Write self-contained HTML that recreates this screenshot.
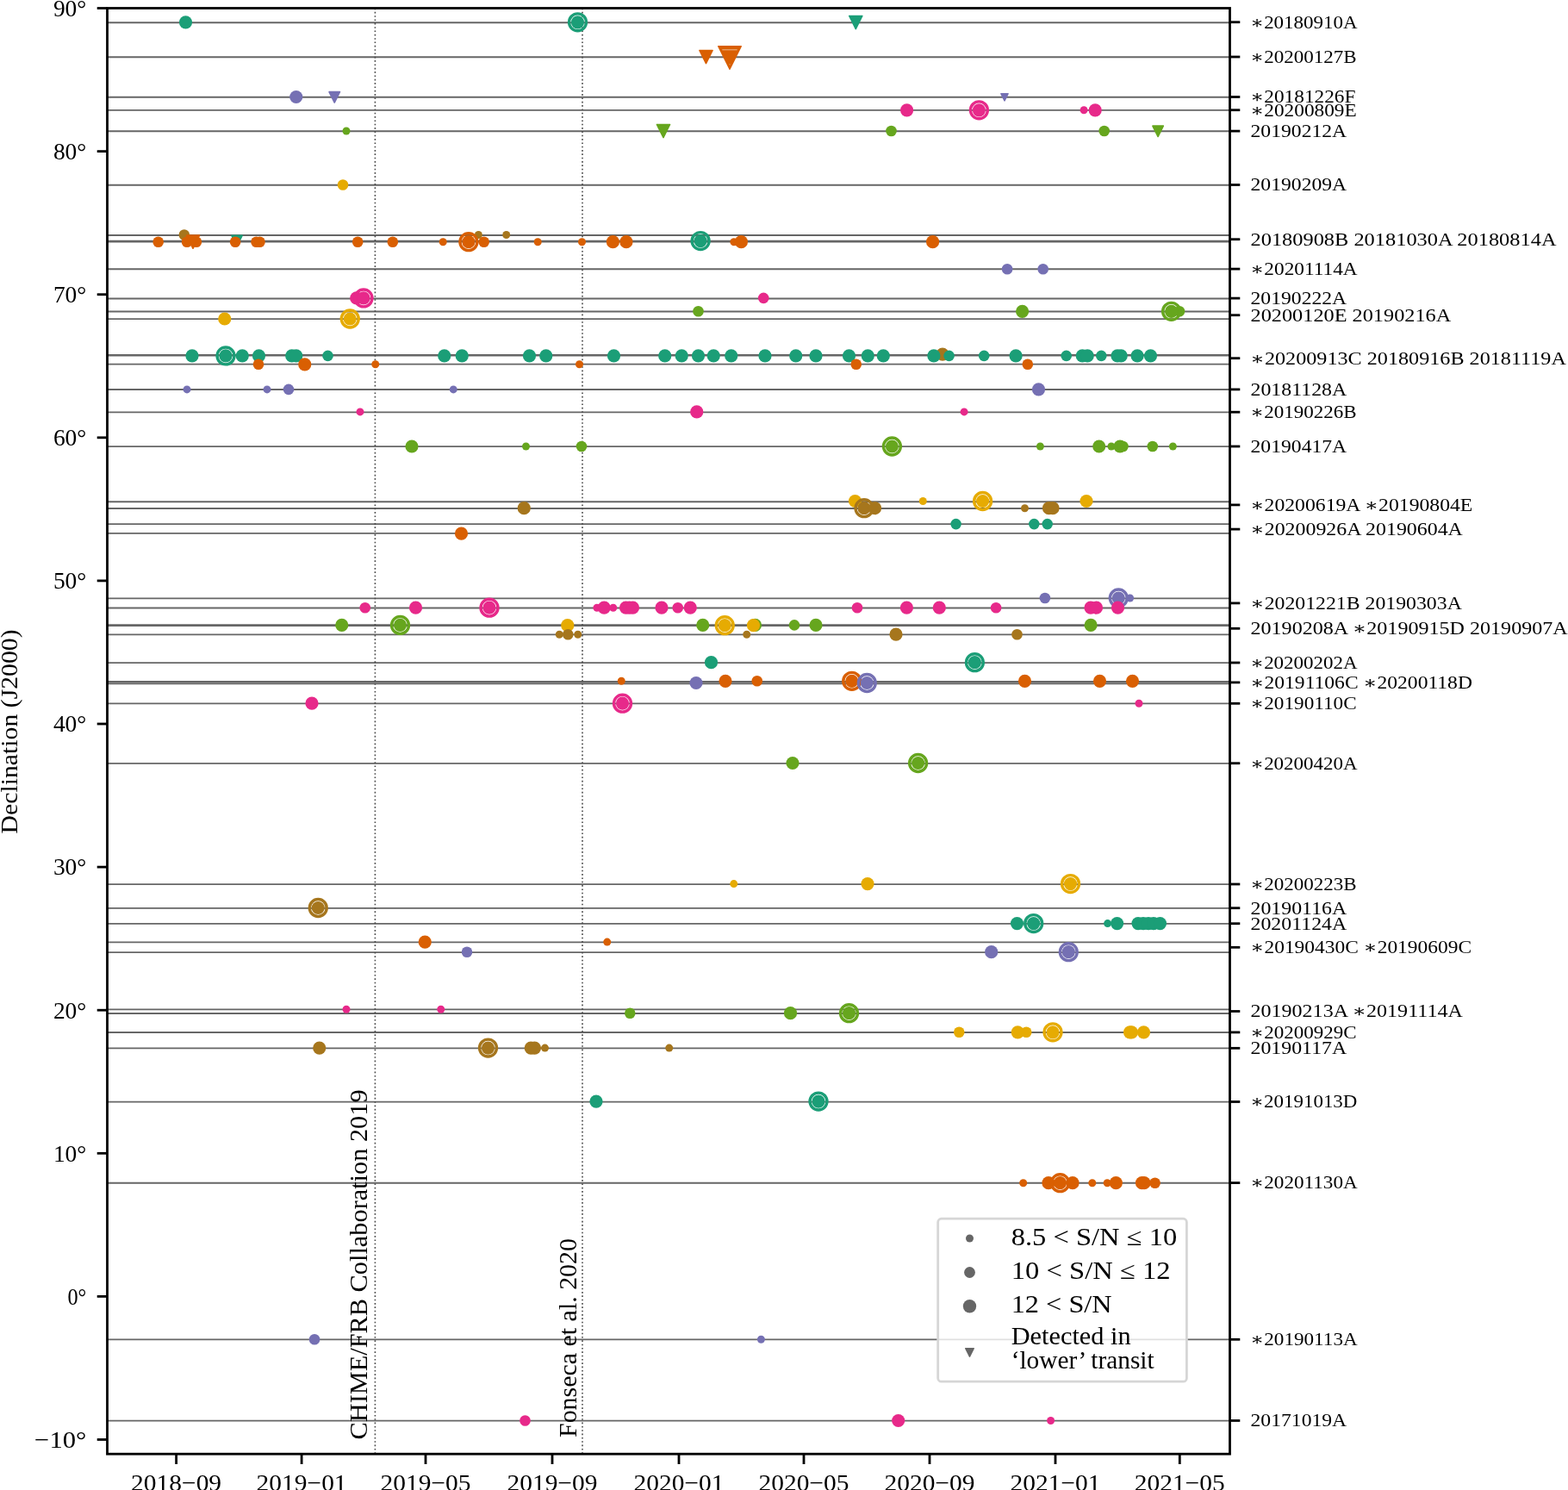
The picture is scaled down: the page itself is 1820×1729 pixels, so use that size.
<!DOCTYPE html><html><head><meta charset="utf-8"><style>html,body{margin:0;padding:0;background:#fff;}svg{display:block;}text{font-family:"Liberation Serif","DejaVu Serif",serif;fill:#000;}</style></head><body>
<svg width="1820" height="1729" viewBox="0 0 1820 1729">
<rect x="0" y="0" width="1820" height="1729" fill="#fff"/>
<g stroke="#666" stroke-width="1.85">
<line x1="124.5" y1="26.2" x2="1427.5" y2="26.2"/>
<line x1="124.5" y1="66.2" x2="1427.5" y2="66.2"/>
<line x1="124.5" y1="112.7" x2="1427.5" y2="112.7"/>
<line x1="124.5" y1="127.9" x2="1427.5" y2="127.9"/>
<line x1="124.5" y1="152.2" x2="1427.5" y2="152.2"/>
<line x1="124.5" y1="214.7" x2="1427.5" y2="214.7"/>
<line x1="124.5" y1="273.0" x2="1427.5" y2="273.0"/>
<line x1="124.5" y1="279.6" x2="1427.5" y2="279.6"/>
<line x1="124.5" y1="280.6" x2="1427.5" y2="280.6"/>
<line x1="124.5" y1="312.2" x2="1427.5" y2="312.2"/>
<line x1="124.5" y1="346.5" x2="1427.5" y2="346.5"/>
<line x1="124.5" y1="361.5" x2="1427.5" y2="361.5"/>
<line x1="124.5" y1="370.1" x2="1427.5" y2="370.1"/>
<line x1="124.5" y1="411.8" x2="1427.5" y2="411.8"/>
<line x1="124.5" y1="412.6" x2="1427.5" y2="412.6"/>
<line x1="124.5" y1="422.6" x2="1427.5" y2="422.6"/>
<line x1="124.5" y1="452.0" x2="1427.5" y2="452.0"/>
<line x1="124.5" y1="478.3" x2="1427.5" y2="478.3"/>
<line x1="124.5" y1="518.1" x2="1427.5" y2="518.1"/>
<line x1="124.5" y1="582.2" x2="1427.5" y2="582.2"/>
<line x1="124.5" y1="590.0" x2="1427.5" y2="590.0"/>
<line x1="124.5" y1="608.1" x2="1427.5" y2="608.1"/>
<line x1="124.5" y1="618.9" x2="1427.5" y2="618.9"/>
<line x1="124.5" y1="694.4" x2="1427.5" y2="694.4"/>
<line x1="124.5" y1="705.5" x2="1427.5" y2="705.5"/>
<line x1="124.5" y1="725.2" x2="1427.5" y2="725.2"/>
<line x1="124.5" y1="726.0" x2="1427.5" y2="726.0"/>
<line x1="124.5" y1="736.3" x2="1427.5" y2="736.3"/>
<line x1="124.5" y1="769.1" x2="1427.5" y2="769.1"/>
<line x1="124.5" y1="791.0" x2="1427.5" y2="791.0"/>
<line x1="124.5" y1="793.2" x2="1427.5" y2="793.2"/>
<line x1="124.5" y1="816.4" x2="1427.5" y2="816.4"/>
<line x1="124.5" y1="885.8" x2="1427.5" y2="885.8"/>
<line x1="124.5" y1="1026.1" x2="1427.5" y2="1026.1"/>
<line x1="124.5" y1="1053.8" x2="1427.5" y2="1053.8"/>
<line x1="124.5" y1="1071.8" x2="1427.5" y2="1071.8"/>
<line x1="124.5" y1="1093.4" x2="1427.5" y2="1093.4"/>
<line x1="124.5" y1="1105.1" x2="1427.5" y2="1105.1"/>
<line x1="124.5" y1="1171.3" x2="1427.5" y2="1171.3"/>
<line x1="124.5" y1="1176.0" x2="1427.5" y2="1176.0"/>
<line x1="124.5" y1="1198.0" x2="1427.5" y2="1198.0"/>
<line x1="124.5" y1="1216.4" x2="1427.5" y2="1216.4"/>
<line x1="124.5" y1="1278.6" x2="1427.5" y2="1278.6"/>
<line x1="124.5" y1="1372.7" x2="1427.5" y2="1372.7"/>
<line x1="124.5" y1="1554.4" x2="1427.5" y2="1554.4"/>
<line x1="124.5" y1="1648.6" x2="1427.5" y2="1648.6"/>
</g>
<g stroke="#4a4a4a" stroke-width="1.63" stroke-dasharray="1.63 2.7">
<line x1="435.4" y1="9.5" x2="435.4" y2="1687.2"/>
<line x1="676.0" y1="9.5" x2="676.0" y2="1687.2"/>
</g>
<circle cx="215.5" cy="25.8" r="7.6" fill="#1b9e77"/>
<circle cx="670.5" cy="25.8" r="9.95" fill="none" stroke="#1b9e77" stroke-width="3.4"/>
<circle cx="670.5" cy="25.8" r="7.6" fill="#1b9e77"/>
<path d="M985.70 18.50L1000.90 18.50L993.30 33.70Z" fill="#1b9e77" stroke="#1b9e77" stroke-width="1.5" stroke-linejoin="round"/>
<path d="M811.90 58.50L827.10 58.50L819.50 73.70Z" fill="#d95f02" stroke="#d95f02" stroke-width="1.5" stroke-linejoin="round"/>
<path d="M833.75 53.75L860.25 53.75L847.00 80.25Z" fill="#d95f02" stroke="#d95f02" stroke-width="1.5" stroke-linejoin="round"/>
<line x1="838.30" y1="57.80" x2="855.70" y2="57.80" stroke="#fff" stroke-width="0.7" opacity="0.8"/>
<circle cx="847.00" cy="74.80" r="0.5" fill="#fff" opacity="0.7"/>
<circle cx="343.75" cy="112.5" r="7.6" fill="#7570b3"/>
<path d="M382.00 106.55L394.50 106.55L388.25 119.05Z" fill="#7570b3" stroke="#7570b3" stroke-width="1.5" stroke-linejoin="round"/>
<path d="M1161.90 108.70L1170.10 108.70L1166.00 116.90Z" fill="#7570b3" stroke="#7570b3" stroke-width="1.5" stroke-linejoin="round"/>
<circle cx="1052.6" cy="127.8" r="7.6" fill="#e7298a"/>
<circle cx="1136.4" cy="127.8" r="9.95" fill="none" stroke="#e7298a" stroke-width="3.4"/>
<circle cx="1136.4" cy="127.8" r="7.6" fill="#e7298a"/>
<circle cx="1258.1" cy="127.8" r="4.5" fill="#e7298a"/>
<circle cx="1271.2" cy="127.8" r="7.6" fill="#e7298a"/>
<circle cx="402" cy="152.0" r="4.5" fill="#66a61e"/>
<path d="M762.40 144.50L777.60 144.50L770.00 159.70Z" fill="#66a61e" stroke="#66a61e" stroke-width="1.5" stroke-linejoin="round"/>
<circle cx="1034.5" cy="152.0" r="6.3" fill="#66a61e"/>
<circle cx="1281.7" cy="152.0" r="6.3" fill="#66a61e"/>
<path d="M1337.85 146.05L1350.35 146.05L1344.10 158.55Z" fill="#66a61e" stroke="#66a61e" stroke-width="1.5" stroke-linejoin="round"/>
<circle cx="398" cy="214.5" r="6.3" fill="#e6ab02"/>
<circle cx="213.8" cy="272.5" r="6.3" fill="#a6761d"/>
<circle cx="555.4" cy="272.5" r="4.5" fill="#a6761d"/>
<circle cx="587.7" cy="272.5" r="4.5" fill="#a6761d"/>
<path d="M268.75 273.25L281.25 273.25L275.00 285.75Z" fill="#1b9e77" stroke="#1b9e77" stroke-width="1.5" stroke-linejoin="round"/>
<circle cx="813.1" cy="279.6" r="9.95" fill="none" stroke="#1b9e77" stroke-width="3.4"/>
<circle cx="813.1" cy="279.6" r="7.6" fill="#1b9e77"/>
<circle cx="183.7" cy="280.7" r="6.3" fill="#d95f02"/>
<circle cx="217.0" cy="280.7" r="6.3" fill="#d95f02"/>
<circle cx="227.9" cy="280.7" r="6.3" fill="#d95f02"/>
<path d="M216.40 273.10L231.60 273.10L224.00 288.30Z" fill="#d95f02" stroke="#d95f02" stroke-width="1.5" stroke-linejoin="round"/>
<circle cx="273.1" cy="280.7" r="6.3" fill="#d95f02"/>
<circle cx="297.5" cy="280.7" r="6.3" fill="#d95f02"/>
<circle cx="301.5" cy="280.7" r="6.3" fill="#d95f02"/>
<circle cx="415.2" cy="280.7" r="6.3" fill="#d95f02"/>
<circle cx="455.8" cy="280.7" r="6.3" fill="#d95f02"/>
<circle cx="514.2" cy="280.7" r="4.5" fill="#d95f02"/>
<circle cx="543.9" cy="280.7" r="9.95" fill="none" stroke="#d95f02" stroke-width="3.4"/>
<circle cx="543.9" cy="280.7" r="7.6" fill="#d95f02"/>
<circle cx="561.7" cy="280.7" r="6.3" fill="#d95f02"/>
<circle cx="624.2" cy="280.7" r="4.5" fill="#d95f02"/>
<circle cx="675.5" cy="280.7" r="4.5" fill="#d95f02"/>
<circle cx="711.4" cy="280.7" r="7.6" fill="#d95f02"/>
<circle cx="726.9" cy="280.7" r="7.6" fill="#d95f02"/>
<circle cx="851.9" cy="280.7" r="4.5" fill="#d95f02"/>
<circle cx="860.4" cy="280.7" r="7.6" fill="#d95f02"/>
<circle cx="1082.6" cy="280.7" r="7.6" fill="#d95f02"/>
<circle cx="1169.1" cy="312.2" r="6.3" fill="#7570b3"/>
<circle cx="1210.7" cy="312.2" r="6.3" fill="#7570b3"/>
<circle cx="413.75" cy="345.9" r="7.6" fill="#e7298a"/>
<circle cx="422.0" cy="345.9" r="9.95" fill="none" stroke="#e7298a" stroke-width="3.4"/>
<circle cx="422.0" cy="345.9" r="7.6" fill="#e7298a"/>
<circle cx="886.25" cy="345.9" r="6.3" fill="#e7298a"/>
<circle cx="810.5" cy="361.3" r="6.3" fill="#66a61e"/>
<circle cx="1186.6" cy="361.3" r="7.6" fill="#66a61e"/>
<circle cx="1369.0" cy="361.3" r="6.3" fill="#66a61e"/>
<circle cx="1359.6" cy="361.3" r="9.95" fill="none" stroke="#66a61e" stroke-width="3.4"/>
<circle cx="1359.6" cy="361.3" r="7.6" fill="#66a61e"/>
<circle cx="260.75" cy="370.0" r="7.6" fill="#e6ab02"/>
<circle cx="406.25" cy="370.0" r="9.95" fill="none" stroke="#e6ab02" stroke-width="3.4"/>
<circle cx="406.25" cy="370.0" r="7.6" fill="#e6ab02"/>
<circle cx="1094.0" cy="411.2" r="7.6" fill="#a6761d"/>
<circle cx="223" cy="412.9" r="7.6" fill="#1b9e77"/>
<circle cx="262" cy="412.9" r="9.95" fill="none" stroke="#1b9e77" stroke-width="3.4"/>
<circle cx="262" cy="412.9" r="7.6" fill="#1b9e77"/>
<circle cx="281.25" cy="412.9" r="7.6" fill="#1b9e77"/>
<circle cx="300.5" cy="412.9" r="7.6" fill="#1b9e77"/>
<circle cx="338.75" cy="412.9" r="7.6" fill="#1b9e77"/>
<circle cx="343.75" cy="412.9" r="7.6" fill="#1b9e77"/>
<circle cx="380.5" cy="412.9" r="6.3" fill="#1b9e77"/>
<circle cx="515.75" cy="412.9" r="7.6" fill="#1b9e77"/>
<circle cx="536.25" cy="412.9" r="7.6" fill="#1b9e77"/>
<circle cx="614.5" cy="412.9" r="7.6" fill="#1b9e77"/>
<circle cx="633.75" cy="412.9" r="7.6" fill="#1b9e77"/>
<circle cx="712.5" cy="412.9" r="7.6" fill="#1b9e77"/>
<circle cx="771.75" cy="412.9" r="7.6" fill="#1b9e77"/>
<circle cx="791.25" cy="412.9" r="7.6" fill="#1b9e77"/>
<circle cx="810.5" cy="412.9" r="7.6" fill="#1b9e77"/>
<circle cx="828.25" cy="412.9" r="7.6" fill="#1b9e77"/>
<circle cx="848.75" cy="412.9" r="7.6" fill="#1b9e77"/>
<circle cx="888" cy="412.9" r="7.6" fill="#1b9e77"/>
<circle cx="923.75" cy="412.9" r="7.6" fill="#1b9e77"/>
<circle cx="947" cy="412.9" r="7.6" fill="#1b9e77"/>
<circle cx="985.5" cy="412.9" r="7.6" fill="#1b9e77"/>
<circle cx="1007.3" cy="412.9" r="7.6" fill="#1b9e77"/>
<circle cx="1025.3" cy="412.9" r="7.6" fill="#1b9e77"/>
<circle cx="1083.9" cy="412.9" r="7.6" fill="#1b9e77"/>
<circle cx="1101.6" cy="412.9" r="6.3" fill="#1b9e77"/>
<circle cx="1142.2" cy="412.9" r="6.3" fill="#1b9e77"/>
<circle cx="1179.1" cy="412.9" r="7.6" fill="#1b9e77"/>
<circle cx="1237.7" cy="412.9" r="6.3" fill="#1b9e77"/>
<circle cx="1256.3" cy="412.9" r="7.6" fill="#1b9e77"/>
<circle cx="1262.2" cy="412.9" r="7.6" fill="#1b9e77"/>
<circle cx="1278.3" cy="412.9" r="6.3" fill="#1b9e77"/>
<circle cx="1297" cy="412.9" r="7.6" fill="#1b9e77"/>
<circle cx="1301.2" cy="412.9" r="7.6" fill="#1b9e77"/>
<circle cx="1320.1" cy="412.9" r="7.6" fill="#1b9e77"/>
<circle cx="1335.5" cy="412.9" r="7.6" fill="#1b9e77"/>
<circle cx="300" cy="422.8" r="6.3" fill="#d95f02"/>
<circle cx="353.75" cy="422.8" r="7.6" fill="#d95f02"/>
<circle cx="435.75" cy="422.8" r="4.5" fill="#d95f02"/>
<circle cx="672.5" cy="422.8" r="4.5" fill="#d95f02"/>
<circle cx="993.75" cy="422.8" r="6.3" fill="#d95f02"/>
<circle cx="1192.8" cy="422.8" r="6.3" fill="#d95f02"/>
<circle cx="217" cy="451.9" r="4.5" fill="#7570b3"/>
<circle cx="310" cy="451.9" r="4.5" fill="#7570b3"/>
<circle cx="335" cy="451.9" r="6.3" fill="#7570b3"/>
<circle cx="526.25" cy="451.9" r="4.5" fill="#7570b3"/>
<circle cx="1205.5" cy="451.9" r="7.6" fill="#7570b3"/>
<circle cx="418" cy="477.9" r="4.5" fill="#e7298a"/>
<circle cx="808.75" cy="477.9" r="7.6" fill="#e7298a"/>
<circle cx="1119.1" cy="477.9" r="4.5" fill="#e7298a"/>
<circle cx="478" cy="518.0" r="7.6" fill="#66a61e"/>
<circle cx="610.5" cy="518.0" r="4.5" fill="#66a61e"/>
<circle cx="675" cy="518.0" r="6.3" fill="#66a61e"/>
<circle cx="1035.4" cy="518.0" r="9.95" fill="none" stroke="#66a61e" stroke-width="3.4"/>
<circle cx="1035.4" cy="518.0" r="7.6" fill="#66a61e"/>
<circle cx="1207.4" cy="518.0" r="4.5" fill="#66a61e"/>
<circle cx="1275.7" cy="518.0" r="7.6" fill="#66a61e"/>
<circle cx="1289.9" cy="518.0" r="4.5" fill="#66a61e"/>
<circle cx="1300" cy="518.0" r="7.6" fill="#66a61e"/>
<circle cx="1303.5" cy="518.0" r="6.3" fill="#66a61e"/>
<circle cx="1337.8" cy="518.0" r="6.3" fill="#66a61e"/>
<circle cx="1361.4" cy="518.0" r="4.5" fill="#66a61e"/>
<circle cx="992.5" cy="581.5" r="7.6" fill="#e6ab02"/>
<circle cx="1071.3" cy="581.5" r="4.5" fill="#e6ab02"/>
<circle cx="1140.6" cy="581.5" r="9.95" fill="none" stroke="#e6ab02" stroke-width="3.4"/>
<circle cx="1140.6" cy="581.5" r="7.6" fill="#e6ab02"/>
<circle cx="1261" cy="581.5" r="7.6" fill="#e6ab02"/>
<circle cx="608.25" cy="589.7" r="7.6" fill="#a6761d"/>
<circle cx="1003" cy="589.7" r="9.95" fill="none" stroke="#a6761d" stroke-width="3.4"/>
<circle cx="1003" cy="589.7" r="7.6" fill="#a6761d"/>
<circle cx="1015.5" cy="589.7" r="7.6" fill="#a6761d"/>
<circle cx="1189.5" cy="589.7" r="4.5" fill="#a6761d"/>
<circle cx="1217.5" cy="589.7" r="7.6" fill="#a6761d"/>
<circle cx="1222" cy="589.7" r="7.6" fill="#a6761d"/>
<circle cx="1109.6" cy="608.1" r="6.3" fill="#1b9e77"/>
<circle cx="1200.3" cy="608.1" r="6.3" fill="#1b9e77"/>
<circle cx="1215.7" cy="608.1" r="6.3" fill="#1b9e77"/>
<circle cx="535.5" cy="619.2" r="7.6" fill="#d95f02"/>
<circle cx="1212.9" cy="694.0" r="6.3" fill="#7570b3"/>
<circle cx="1298.3" cy="694.0" r="9.95" fill="none" stroke="#7570b3" stroke-width="3.4"/>
<circle cx="1298.3" cy="694.0" r="7.6" fill="#7570b3"/>
<circle cx="1311.6" cy="694.0" r="4.5" fill="#7570b3"/>
<circle cx="423.75" cy="705.2" r="6.3" fill="#e7298a"/>
<circle cx="482.5" cy="705.2" r="7.6" fill="#e7298a"/>
<circle cx="568" cy="705.2" r="9.95" fill="none" stroke="#e7298a" stroke-width="3.4"/>
<circle cx="568" cy="705.2" r="7.6" fill="#e7298a"/>
<circle cx="692.9" cy="705.2" r="4.5" fill="#e7298a"/>
<circle cx="701.25" cy="705.2" r="7.6" fill="#e7298a"/>
<circle cx="711.75" cy="705.2" r="4.5" fill="#e7298a"/>
<circle cx="726.5" cy="705.2" r="7.6" fill="#e7298a"/>
<circle cx="730.5" cy="705.2" r="7.6" fill="#e7298a"/>
<circle cx="734.5" cy="705.2" r="7.6" fill="#e7298a"/>
<circle cx="768" cy="705.2" r="7.6" fill="#e7298a"/>
<circle cx="786.75" cy="705.2" r="6.3" fill="#e7298a"/>
<circle cx="801.25" cy="705.2" r="7.6" fill="#e7298a"/>
<circle cx="995" cy="705.2" r="6.3" fill="#e7298a"/>
<circle cx="1052.4" cy="705.2" r="7.6" fill="#e7298a"/>
<circle cx="1090.3" cy="705.2" r="7.6" fill="#e7298a"/>
<circle cx="1156.1" cy="705.2" r="6.3" fill="#e7298a"/>
<circle cx="1266" cy="705.2" r="7.6" fill="#e7298a"/>
<circle cx="1272.5" cy="705.2" r="7.6" fill="#e7298a"/>
<circle cx="1297.5" cy="705.2" r="7.6" fill="#e7298a"/>
<circle cx="396.75" cy="725.4" r="7.6" fill="#66a61e"/>
<circle cx="464.5" cy="725.4" r="9.95" fill="none" stroke="#66a61e" stroke-width="3.4"/>
<circle cx="464.5" cy="725.4" r="7.6" fill="#66a61e"/>
<circle cx="815.75" cy="725.4" r="7.6" fill="#66a61e"/>
<circle cx="876.5" cy="725.4" r="7.6" fill="#66a61e"/>
<circle cx="922" cy="725.4" r="6.3" fill="#66a61e"/>
<circle cx="947" cy="725.4" r="7.6" fill="#66a61e"/>
<circle cx="1266.1" cy="725.4" r="7.6" fill="#66a61e"/>
<circle cx="658.75" cy="725.7" r="7.6" fill="#e6ab02"/>
<circle cx="841.25" cy="725.7" r="9.95" fill="none" stroke="#e6ab02" stroke-width="3.4"/>
<circle cx="841.25" cy="725.7" r="7.6" fill="#e6ab02"/>
<circle cx="874.5" cy="725.7" r="7.6" fill="#e6ab02"/>
<circle cx="649.25" cy="736.2" r="4.5" fill="#a6761d"/>
<circle cx="659.25" cy="736.2" r="6.3" fill="#a6761d"/>
<circle cx="670.75" cy="736.2" r="4.5" fill="#a6761d"/>
<circle cx="866.75" cy="736.2" r="4.5" fill="#a6761d"/>
<circle cx="1040" cy="736.2" r="7.6" fill="#a6761d"/>
<circle cx="1180.5" cy="736.2" r="6.3" fill="#a6761d"/>
<circle cx="825.5" cy="768.7" r="7.6" fill="#1b9e77"/>
<circle cx="1131.4" cy="768.7" r="9.95" fill="none" stroke="#1b9e77" stroke-width="3.4"/>
<circle cx="1131.4" cy="768.7" r="7.6" fill="#1b9e77"/>
<circle cx="721.25" cy="790.3" r="4.5" fill="#d95f02"/>
<circle cx="842" cy="790.3" r="7.6" fill="#d95f02"/>
<circle cx="878.75" cy="790.3" r="6.3" fill="#d95f02"/>
<circle cx="988.75" cy="790.3" r="9.95" fill="none" stroke="#d95f02" stroke-width="3.4"/>
<circle cx="988.75" cy="790.3" r="7.6" fill="#d95f02"/>
<circle cx="1189.5" cy="790.3" r="7.6" fill="#d95f02"/>
<circle cx="1276.5" cy="790.3" r="7.6" fill="#d95f02"/>
<circle cx="1314.5" cy="790.3" r="7.6" fill="#d95f02"/>
<circle cx="808" cy="792.5" r="7.6" fill="#7570b3"/>
<circle cx="1006.3" cy="792.5" r="9.95" fill="none" stroke="#7570b3" stroke-width="3.4"/>
<circle cx="1006.3" cy="792.5" r="7.6" fill="#7570b3"/>
<circle cx="362" cy="816.2" r="7.6" fill="#e7298a"/>
<circle cx="722.5" cy="816.2" r="9.95" fill="none" stroke="#e7298a" stroke-width="3.4"/>
<circle cx="722.5" cy="816.2" r="7.6" fill="#e7298a"/>
<circle cx="1322" cy="816.2" r="4.5" fill="#e7298a"/>
<circle cx="920" cy="885.5" r="7.6" fill="#66a61e"/>
<circle cx="1065.6" cy="885.5" r="9.95" fill="none" stroke="#66a61e" stroke-width="3.4"/>
<circle cx="1065.6" cy="885.5" r="7.6" fill="#66a61e"/>
<circle cx="851.75" cy="1025.6" r="4.5" fill="#e6ab02"/>
<circle cx="1007" cy="1025.6" r="7.6" fill="#e6ab02"/>
<circle cx="1242.5" cy="1025.6" r="9.95" fill="none" stroke="#e6ab02" stroke-width="3.4"/>
<circle cx="1242.5" cy="1025.6" r="7.6" fill="#e6ab02"/>
<circle cx="369.25" cy="1053.5" r="9.95" fill="none" stroke="#a6761d" stroke-width="3.4"/>
<circle cx="369.25" cy="1053.5" r="7.6" fill="#a6761d"/>
<circle cx="1180.5" cy="1071.6" r="7.6" fill="#1b9e77"/>
<circle cx="1199.7" cy="1071.6" r="9.95" fill="none" stroke="#1b9e77" stroke-width="3.4"/>
<circle cx="1199.7" cy="1071.6" r="7.6" fill="#1b9e77"/>
<circle cx="1285.6" cy="1071.6" r="4.5" fill="#1b9e77"/>
<circle cx="1296.6" cy="1071.6" r="7.6" fill="#1b9e77"/>
<circle cx="1321" cy="1071.6" r="7.6" fill="#1b9e77"/>
<circle cx="1327" cy="1071.6" r="7.6" fill="#1b9e77"/>
<circle cx="1333" cy="1071.6" r="7.6" fill="#1b9e77"/>
<circle cx="1339" cy="1071.6" r="7.6" fill="#1b9e77"/>
<circle cx="1346.5" cy="1071.6" r="7.6" fill="#1b9e77"/>
<circle cx="493.25" cy="1093.1" r="7.6" fill="#d95f02"/>
<circle cx="704.75" cy="1093.1" r="4.5" fill="#d95f02"/>
<circle cx="542" cy="1104.7" r="6.3" fill="#7570b3"/>
<circle cx="1150.7" cy="1104.7" r="7.6" fill="#7570b3"/>
<circle cx="1240.3" cy="1104.7" r="9.95" fill="none" stroke="#7570b3" stroke-width="3.4"/>
<circle cx="1240.3" cy="1104.7" r="7.6" fill="#7570b3"/>
<circle cx="402" cy="1171.3" r="4.5" fill="#e7298a"/>
<circle cx="511.75" cy="1171.3" r="4.5" fill="#e7298a"/>
<circle cx="731.25" cy="1175.7" r="6.3" fill="#66a61e"/>
<circle cx="917.5" cy="1175.7" r="7.6" fill="#66a61e"/>
<circle cx="985.5" cy="1175.7" r="9.95" fill="none" stroke="#66a61e" stroke-width="3.4"/>
<circle cx="985.5" cy="1175.7" r="7.6" fill="#66a61e"/>
<circle cx="1113.25" cy="1197.8" r="6.3" fill="#e6ab02"/>
<circle cx="1181.25" cy="1197.8" r="7.6" fill="#e6ab02"/>
<circle cx="1191.25" cy="1197.8" r="6.3" fill="#e6ab02"/>
<circle cx="1222" cy="1197.8" r="9.95" fill="none" stroke="#e6ab02" stroke-width="3.4"/>
<circle cx="1222" cy="1197.8" r="7.6" fill="#e6ab02"/>
<circle cx="1311.5" cy="1197.8" r="7.6" fill="#e6ab02"/>
<circle cx="1313.5" cy="1197.8" r="7.6" fill="#e6ab02"/>
<circle cx="1327.5" cy="1197.8" r="7.6" fill="#e6ab02"/>
<circle cx="370.75" cy="1216.1" r="7.6" fill="#a6761d"/>
<circle cx="566.5" cy="1216.1" r="9.95" fill="none" stroke="#a6761d" stroke-width="3.4"/>
<circle cx="566.5" cy="1216.1" r="7.6" fill="#a6761d"/>
<circle cx="616.25" cy="1216.1" r="7.6" fill="#a6761d"/>
<circle cx="620.5" cy="1216.1" r="7.6" fill="#a6761d"/>
<circle cx="632.5" cy="1216.1" r="4.5" fill="#a6761d"/>
<circle cx="776.75" cy="1216.1" r="4.5" fill="#a6761d"/>
<circle cx="692" cy="1278.1" r="7.6" fill="#1b9e77"/>
<circle cx="950" cy="1278.1" r="9.95" fill="none" stroke="#1b9e77" stroke-width="3.4"/>
<circle cx="950" cy="1278.1" r="7.6" fill="#1b9e77"/>
<circle cx="1187.7" cy="1372.7" r="4.5" fill="#d95f02"/>
<circle cx="1217" cy="1372.7" r="7.6" fill="#d95f02"/>
<circle cx="1230.5" cy="1372.7" r="9.95" fill="none" stroke="#d95f02" stroke-width="3.4"/>
<circle cx="1230.5" cy="1372.7" r="7.6" fill="#d95f02"/>
<circle cx="1245" cy="1372.7" r="7.6" fill="#d95f02"/>
<circle cx="1267.8" cy="1372.7" r="4.5" fill="#d95f02"/>
<circle cx="1285.2" cy="1372.7" r="4.5" fill="#d95f02"/>
<circle cx="1295.3" cy="1372.7" r="7.6" fill="#d95f02"/>
<circle cx="1325.5" cy="1372.7" r="7.6" fill="#d95f02"/>
<circle cx="1328" cy="1372.7" r="7.6" fill="#d95f02"/>
<circle cx="1340.6" cy="1372.7" r="6.3" fill="#d95f02"/>
<circle cx="365.05" cy="1554.3" r="6.3" fill="#7570b3"/>
<circle cx="883.4" cy="1554.3" r="4.5" fill="#7570b3"/>
<circle cx="609.5" cy="1648.5" r="6.3" fill="#e7298a"/>
<circle cx="1042.7" cy="1648.5" r="7.6" fill="#e7298a"/>
<circle cx="1219.6" cy="1648.5" r="4.5" fill="#e7298a"/>
<text transform="translate(426.0,1670.4) rotate(-90)" font-size="28.5" textLength="406" lengthAdjust="spacingAndGlyphs">CHIME/FRB Collaboration 2019</text>
<text transform="translate(668.8,1668) rotate(-90)" font-size="28.5" textLength="231" lengthAdjust="spacingAndGlyphs">Fonseca et al. 2020</text>
<rect x="1088.7" y="1414.2" width="288.7" height="189" rx="4" ry="4" fill="#fff" fill-opacity="0.8" stroke="#d6d6d6" stroke-width="2.8"/>
<circle cx="1125.5" cy="1437" r="4.5" fill="#666666"/>
<circle cx="1125.5" cy="1476.5" r="6.4" fill="#666666"/>
<circle cx="1125.5" cy="1515.7" r="7.7" fill="#666666"/>
<path d="M1120.75 1564.65L1130.25 1564.65L1125.50 1574.15Z" fill="#666666" stroke="#666666" stroke-width="1.5" stroke-linejoin="round"/>
<g font-size="28.5">
<text x="1173.7" y="1444.5" textLength="192.5" lengthAdjust="spacingAndGlyphs">8.5 &lt; S/N ≤ 10</text>
<text x="1173.7" y="1483.7" textLength="185" lengthAdjust="spacingAndGlyphs">10 &lt; S/N ≤ 12</text>
<text x="1173.7" y="1522.5" textLength="117" lengthAdjust="spacingAndGlyphs">12 &lt; S/N</text>
<text x="1173.7" y="1560.3" textLength="139" lengthAdjust="spacingAndGlyphs">Detected in</text>
<text x="1173.7" y="1587.6" textLength="166" lengthAdjust="spacingAndGlyphs">‘lower’ transit</text>
</g>
<rect x="124.5" y="9.5" width="1303.0" height="1677.7" fill="none" stroke="#000" stroke-width="2.8"/>
<g stroke="#000" stroke-width="2.8">
<line x1="112.7" y1="9.50" x2="124.5" y2="9.50"/>
<line x1="112.7" y1="175.60" x2="124.5" y2="175.60"/>
<line x1="112.7" y1="341.70" x2="124.5" y2="341.70"/>
<line x1="112.7" y1="507.80" x2="124.5" y2="507.80"/>
<line x1="112.7" y1="673.90" x2="124.5" y2="673.90"/>
<line x1="112.7" y1="840.00" x2="124.5" y2="840.00"/>
<line x1="112.7" y1="1006.10" x2="124.5" y2="1006.10"/>
<line x1="112.7" y1="1172.20" x2="124.5" y2="1172.20"/>
<line x1="112.7" y1="1338.30" x2="124.5" y2="1338.30"/>
<line x1="112.7" y1="1504.40" x2="124.5" y2="1504.40"/>
<line x1="112.7" y1="1670.50" x2="124.5" y2="1670.50"/>
<line x1="1427.5" y1="25.7" x2="1439.3" y2="25.7"/>
<line x1="1427.5" y1="66.0" x2="1439.3" y2="66.0"/>
<line x1="1427.5" y1="112.5" x2="1439.3" y2="112.5"/>
<line x1="1427.5" y1="127.7" x2="1439.3" y2="127.7"/>
<line x1="1427.5" y1="152.1" x2="1439.3" y2="152.1"/>
<line x1="1427.5" y1="214.5" x2="1439.3" y2="214.5"/>
<line x1="1427.5" y1="277.7" x2="1439.3" y2="277.7"/>
<line x1="1427.5" y1="312.1" x2="1439.3" y2="312.1"/>
<line x1="1427.5" y1="346.1" x2="1439.3" y2="346.1"/>
<line x1="1427.5" y1="365.7" x2="1439.3" y2="365.7"/>
<line x1="1427.5" y1="415.7" x2="1439.3" y2="415.7"/>
<line x1="1427.5" y1="451.9" x2="1439.3" y2="451.9"/>
<line x1="1427.5" y1="478.2" x2="1439.3" y2="478.2"/>
<line x1="1427.5" y1="518.0" x2="1439.3" y2="518.0"/>
<line x1="1427.5" y1="585.9" x2="1439.3" y2="585.9"/>
<line x1="1427.5" y1="614.1" x2="1439.3" y2="614.1"/>
<line x1="1427.5" y1="699.9" x2="1439.3" y2="699.9"/>
<line x1="1427.5" y1="729.3" x2="1439.3" y2="729.3"/>
<line x1="1427.5" y1="769.0" x2="1439.3" y2="769.0"/>
<line x1="1427.5" y1="791.9" x2="1439.3" y2="791.9"/>
<line x1="1427.5" y1="816.3" x2="1439.3" y2="816.3"/>
<line x1="1427.5" y1="885.7" x2="1439.3" y2="885.7"/>
<line x1="1427.5" y1="1026.0" x2="1439.3" y2="1026.0"/>
<line x1="1427.5" y1="1053.7" x2="1439.3" y2="1053.7"/>
<line x1="1427.5" y1="1071.7" x2="1439.3" y2="1071.7"/>
<line x1="1427.5" y1="1099.3" x2="1439.3" y2="1099.3"/>
<line x1="1427.5" y1="1173.5" x2="1439.3" y2="1173.5"/>
<line x1="1427.5" y1="1197.9" x2="1439.3" y2="1197.9"/>
<line x1="1427.5" y1="1216.3" x2="1439.3" y2="1216.3"/>
<line x1="1427.5" y1="1278.5" x2="1439.3" y2="1278.5"/>
<line x1="1427.5" y1="1372.6" x2="1439.3" y2="1372.6"/>
<line x1="1427.5" y1="1554.3" x2="1439.3" y2="1554.3"/>
<line x1="1427.5" y1="1648.5" x2="1439.3" y2="1648.5"/>
<line x1="204.6" y1="1687.2" x2="204.6" y2="1699.0"/>
<line x1="350.1" y1="1687.2" x2="350.1" y2="1699.0"/>
<line x1="494.0" y1="1687.2" x2="494.0" y2="1699.0"/>
<line x1="641.0" y1="1687.2" x2="641.0" y2="1699.0"/>
<line x1="788.0" y1="1687.2" x2="788.0" y2="1699.0"/>
<line x1="933.0" y1="1687.2" x2="933.0" y2="1699.0"/>
<line x1="1079.0" y1="1687.2" x2="1079.0" y2="1699.0"/>
<line x1="1225.0" y1="1687.2" x2="1225.0" y2="1699.0"/>
<line x1="1369.3" y1="1687.2" x2="1369.3" y2="1699.0"/>
</g>
<g font-size="28">
<text x="100.3" y="18.80" text-anchor="end" textLength="38.4" lengthAdjust="spacingAndGlyphs">90°</text>
<text x="100.3" y="184.90" text-anchor="end" textLength="38.4" lengthAdjust="spacingAndGlyphs">80°</text>
<text x="100.3" y="351.00" text-anchor="end" textLength="38.4" lengthAdjust="spacingAndGlyphs">70°</text>
<text x="100.3" y="517.10" text-anchor="end" textLength="38.4" lengthAdjust="spacingAndGlyphs">60°</text>
<text x="100.3" y="683.20" text-anchor="end" textLength="38.4" lengthAdjust="spacingAndGlyphs">50°</text>
<text x="100.3" y="849.30" text-anchor="end" textLength="38.4" lengthAdjust="spacingAndGlyphs">40°</text>
<text x="100.3" y="1015.40" text-anchor="end" textLength="38.4" lengthAdjust="spacingAndGlyphs">30°</text>
<text x="100.3" y="1181.50" text-anchor="end" textLength="38.4" lengthAdjust="spacingAndGlyphs">20°</text>
<text x="100.3" y="1347.60" text-anchor="end" textLength="38.4" lengthAdjust="spacingAndGlyphs">10°</text>
<text x="100.3" y="1513.70" text-anchor="end" textLength="21.8" lengthAdjust="spacingAndGlyphs">0°</text>
<text x="100.3" y="1679.80" text-anchor="end" textLength="60.2" lengthAdjust="spacingAndGlyphs">−10°</text>
<text x="204.6" y="1729.5" text-anchor="middle" textLength="105" lengthAdjust="spacingAndGlyphs">2018−09</text>
<text x="350.1" y="1729.5" text-anchor="middle" textLength="105" lengthAdjust="spacingAndGlyphs">2019−01</text>
<text x="494.0" y="1729.5" text-anchor="middle" textLength="105" lengthAdjust="spacingAndGlyphs">2019−05</text>
<text x="641.0" y="1729.5" text-anchor="middle" textLength="105" lengthAdjust="spacingAndGlyphs">2019−09</text>
<text x="788.0" y="1729.5" text-anchor="middle" textLength="105" lengthAdjust="spacingAndGlyphs">2020−01</text>
<text x="933.0" y="1729.5" text-anchor="middle" textLength="105" lengthAdjust="spacingAndGlyphs">2020−05</text>
<text x="1079.0" y="1729.5" text-anchor="middle" textLength="105" lengthAdjust="spacingAndGlyphs">2020−09</text>
<text x="1225.0" y="1729.5" text-anchor="middle" textLength="105" lengthAdjust="spacingAndGlyphs">2021−01</text>
<text x="1369.3" y="1729.5" text-anchor="middle" textLength="105" lengthAdjust="spacingAndGlyphs">2021−05</text>
</g>
<g font-size="20.3">
<text x="1451.5" y="32.5" textLength="124.2" lengthAdjust="spacingAndGlyphs">∗20180910A</text>
<text x="1451.5" y="72.8" textLength="123.2" lengthAdjust="spacingAndGlyphs">∗20200127B</text>
<text x="1451.5" y="119.3" textLength="121.9" lengthAdjust="spacingAndGlyphs">∗20181226F</text>
<text x="1451.5" y="134.5" textLength="123.2" lengthAdjust="spacingAndGlyphs">∗20200809E</text>
<text x="1451.5" y="158.9" textLength="111.7" lengthAdjust="spacingAndGlyphs">20190212A</text>
<text x="1451.5" y="221.3" textLength="111.7" lengthAdjust="spacingAndGlyphs">20190209A</text>
<text x="1451.5" y="284.5" textLength="355.0" lengthAdjust="spacingAndGlyphs">20180908B 20181030A 20180814A</text>
<text x="1451.5" y="318.9" textLength="124.2" lengthAdjust="spacingAndGlyphs">∗20201114A</text>
<text x="1451.5" y="352.9" textLength="111.7" lengthAdjust="spacingAndGlyphs">20190222A</text>
<text x="1451.5" y="372.5" textLength="232.8" lengthAdjust="spacingAndGlyphs">20200120E 20190216A</text>
<text x="1451.5" y="422.5" textLength="366.4" lengthAdjust="spacingAndGlyphs">∗20200913C 20180916B 20181119A</text>
<text x="1451.5" y="458.7" textLength="111.7" lengthAdjust="spacingAndGlyphs">20181128A</text>
<text x="1451.5" y="485.0" textLength="123.2" lengthAdjust="spacingAndGlyphs">∗20190226B</text>
<text x="1451.5" y="524.8" textLength="111.7" lengthAdjust="spacingAndGlyphs">20190417A</text>
<text x="1451.5" y="592.7" textLength="257.8" lengthAdjust="spacingAndGlyphs">∗20200619A ∗20190804E</text>
<text x="1451.5" y="620.9" textLength="246.3" lengthAdjust="spacingAndGlyphs">∗20200926A 20190604A</text>
<text x="1451.5" y="706.7" textLength="245.3" lengthAdjust="spacingAndGlyphs">∗20201221B 20190303A</text>
<text x="1451.5" y="736.1" textLength="368.2" lengthAdjust="spacingAndGlyphs">20190208A ∗20190915D 20190907A</text>
<text x="1451.5" y="775.8" textLength="124.2" lengthAdjust="spacingAndGlyphs">∗20200202A</text>
<text x="1451.5" y="798.7" textLength="257.4" lengthAdjust="spacingAndGlyphs">∗20191106C ∗20200118D</text>
<text x="1451.5" y="823.1" textLength="123.1" lengthAdjust="spacingAndGlyphs">∗20190110C</text>
<text x="1451.5" y="892.5" textLength="124.2" lengthAdjust="spacingAndGlyphs">∗20200420A</text>
<text x="1451.5" y="1032.8" textLength="123.2" lengthAdjust="spacingAndGlyphs">∗20200223B</text>
<text x="1451.5" y="1060.5" textLength="111.7" lengthAdjust="spacingAndGlyphs">20190116A</text>
<text x="1451.5" y="1078.5" textLength="111.7" lengthAdjust="spacingAndGlyphs">20201124A</text>
<text x="1451.5" y="1106.1" textLength="256.6" lengthAdjust="spacingAndGlyphs">∗20190430C ∗20190609C</text>
<text x="1451.5" y="1180.3" textLength="246.3" lengthAdjust="spacingAndGlyphs">20190213A ∗20191114A</text>
<text x="1451.5" y="1204.7" textLength="123.1" lengthAdjust="spacingAndGlyphs">∗20200929C</text>
<text x="1451.5" y="1223.1" textLength="111.7" lengthAdjust="spacingAndGlyphs">20190117A</text>
<text x="1451.5" y="1285.3" textLength="123.9" lengthAdjust="spacingAndGlyphs">∗20191013D</text>
<text x="1451.5" y="1379.4" textLength="124.2" lengthAdjust="spacingAndGlyphs">∗20201130A</text>
<text x="1451.5" y="1561.1" textLength="124.2" lengthAdjust="spacingAndGlyphs">∗20190113A</text>
<text x="1451.5" y="1655.3" textLength="111.7" lengthAdjust="spacingAndGlyphs">20171019A</text>
</g>
<text transform="translate(19.5,967.4) rotate(-90)" font-size="27" textLength="237" lengthAdjust="spacingAndGlyphs">Declination (J2000)</text>
</svg></body></html>
